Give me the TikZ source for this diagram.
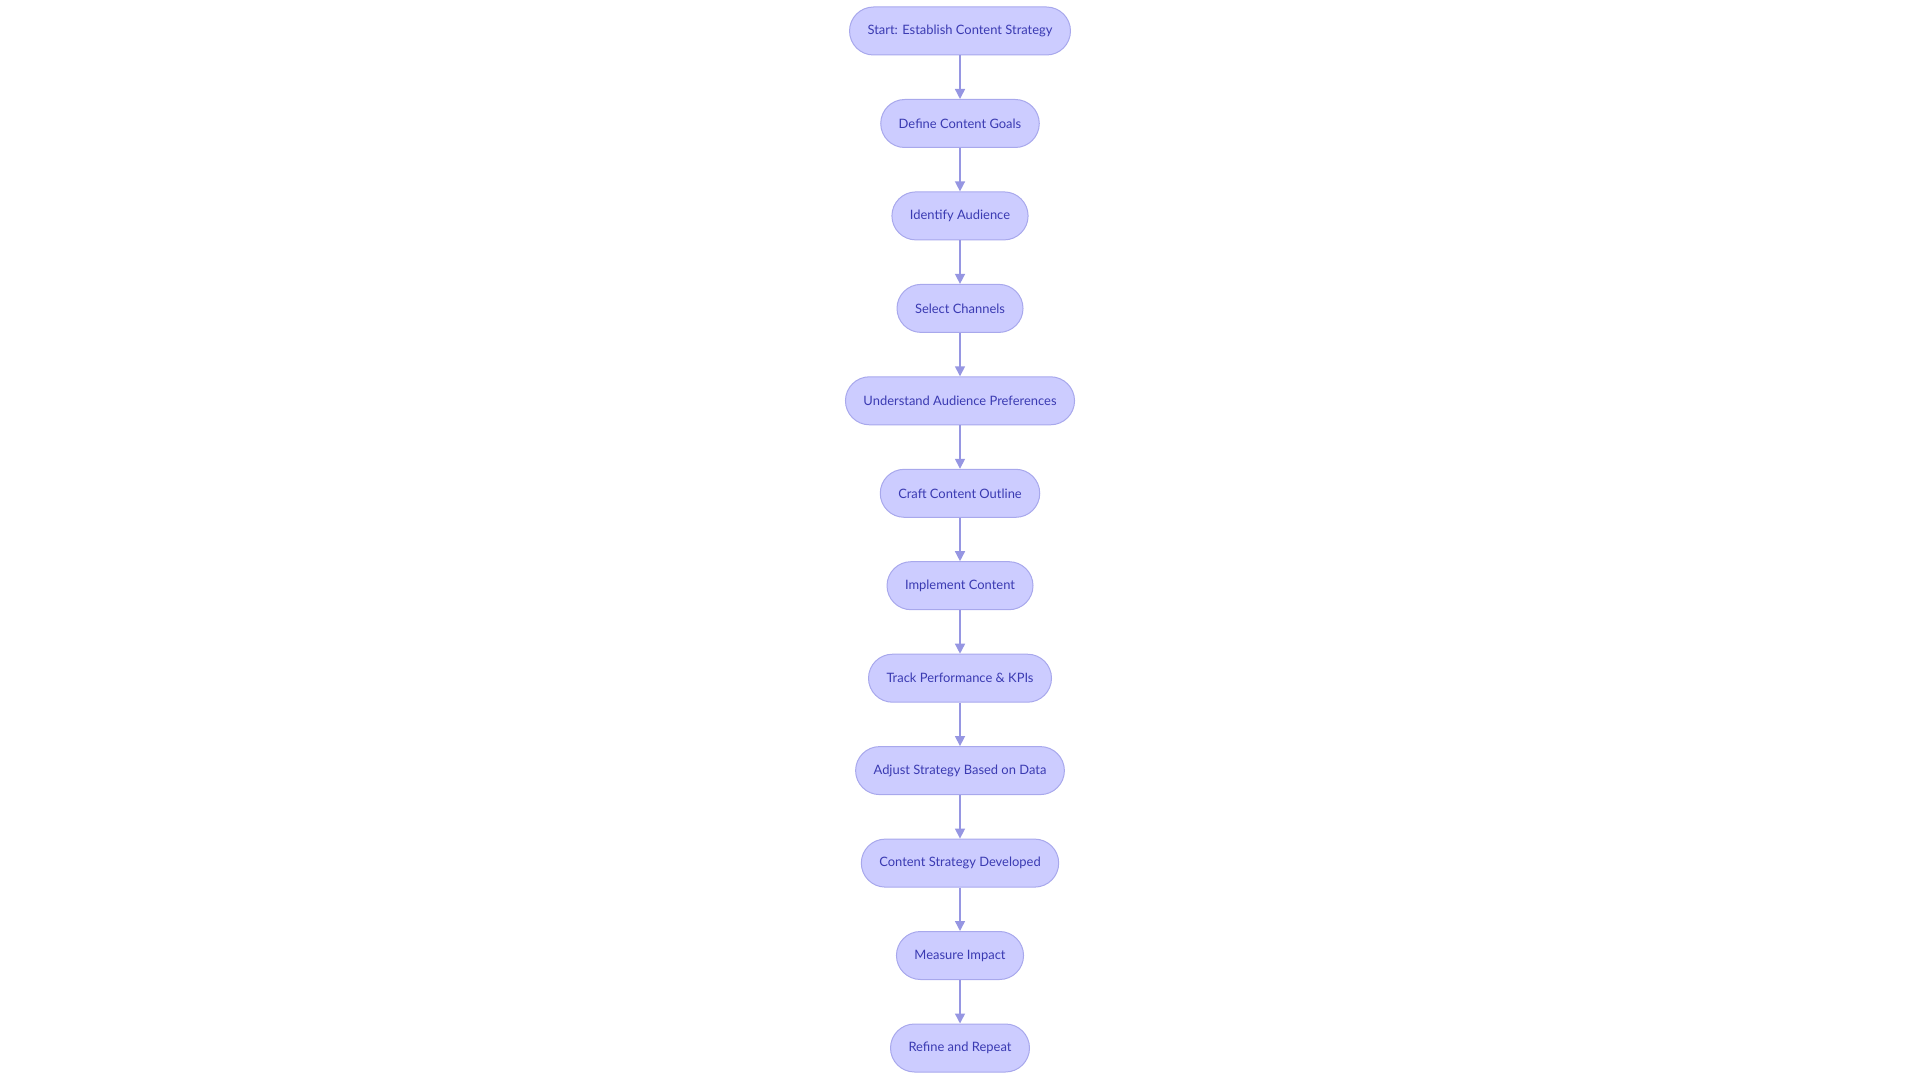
\documentclass[tikz,border=0pt]{standalone}
\usepackage{fontspec}
\setmainfont{Lato}
\usetikzlibrary{arrows.meta}

\definecolor{stepfill}{RGB}{204,204,255}
\definecolor{stepline}{RGB}{168,168,236}
\definecolor{steptext}{RGB}{58,58,178}
\definecolor{flowline}{RGB}{150,150,226}

\tikzset{
  stepnode/.style={draw=stepline, line width=0.75pt, fill=stepfill, text=steptext,
    rounded corners=18pt, minimum height=36pt, inner xsep=13.5pt,
    font=\fontsize{9.7}{12}\selectfont},
  flow/.style={-{Triangle[width=7.5pt,length=7.5pt]}, draw=flowline, line width=1.1pt}
}

\begin{document}
\begin{tikzpicture}[x=0.75pt,y=-0.75pt]
  \useasboundingbox (0,0) rectangle (1920,1080);   % page of 1920 x 1080 px
  % steps, top to bottom
  \node[stepnode] (start)      at (960,31)    {Start: Establish Content Strategy};
  \node[stepnode] (goals)      at (960,123.5) {Define Content Goals};
  \node[stepnode] (audience)   at (960,215.9) {Identify Audience};
  \node[stepnode] (channels)   at (960,308.4) {Select Channels};
  \node[stepnode] (prefs)      at (960,400.8) {Understand Audience Preferences};
  \node[stepnode] (outline)    at (960,493.3) {Craft Content Outline};
  \node[stepnode] (implement)  at (960,585.7) {Implement Content};
  \node[stepnode] (track)      at (960,678.2) {Track Performance \& KPIs};
  \node[stepnode] (adjust)     at (960,770.6) {Adjust Strategy Based on Data};
  \node[stepnode] (developed)  at (960,863.1) {Content Strategy Developed};
  \node[stepnode] (impact)     at (960,955.5) {Measure Impact};
  \node[stepnode] (refine)     at (960,1048)  {Refine and Repeat};
  % connectors
  \draw[flow] (start) -- (goals);
  \draw[flow] (goals) -- (audience);
  \draw[flow] (audience) -- (channels);
  \draw[flow] (channels) -- (prefs);
  \draw[flow] (prefs) -- (outline);
  \draw[flow] (outline) -- (implement);
  \draw[flow] (implement) -- (track);
  \draw[flow] (track) -- (adjust);
  \draw[flow] (adjust) -- (developed);
  \draw[flow] (developed) -- (impact);
  \draw[flow] (impact) -- (refine);
\end{tikzpicture}
\end{document}
